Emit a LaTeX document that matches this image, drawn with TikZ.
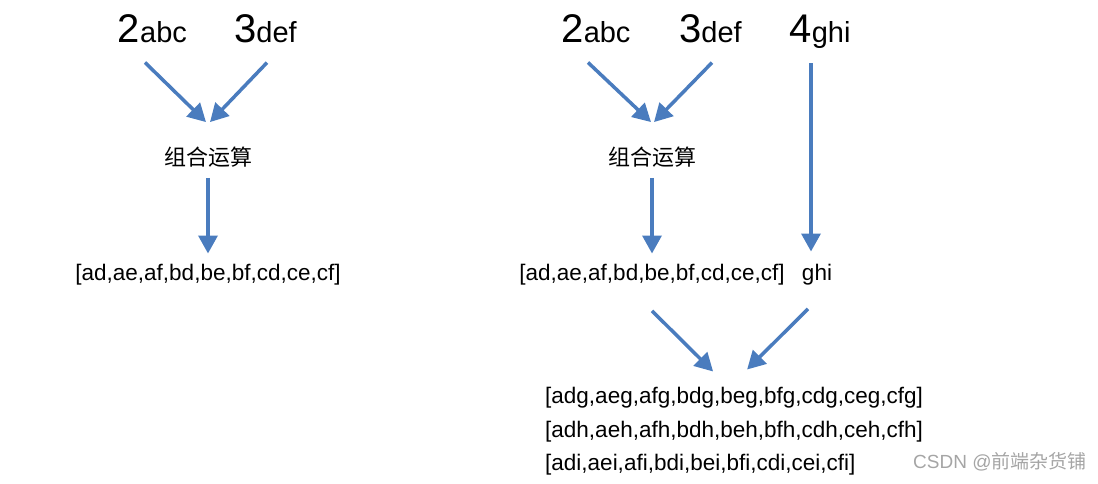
\documentclass[tikz,border=0pt]{standalone}
\usepackage{fontspec}
\setmainfont{Liberation Sans}
\newfontfamily\cjk{Noto Sans CJK SC}
\usepackage{xcolor}
\usepackage{tikz}
\usetikzlibrary{arrows.meta,positioning}
\definecolor{flowblue}{RGB}{74,124,190}
\definecolor{markgray}{RGB}{165,165,165}
\newcommand{\digitset}[2]{#1{\fontsize{29}{32}\selectfont #2}}
\tikzset{
  numlbl/.style={font=\fontsize{40}{44}\selectfont, inner sep=0pt, anchor=base},
  oplbl/.style={font=\cjk\fontsize{22}{26}\selectfont, inner sep=0pt},
  setlbl/.style={font=\fontsize{22.5}{27}\selectfont, inner sep=0pt, anchor=base},
  reslbl/.style={setlbl, anchor=base west},
  flow/.style={-{Triangle[length=18pt,width=19pt]}, flowblue, line width=3.5pt}
}

\begin{document}
\begin{tikzpicture}[x=1pt,y=-1pt]
  \useasboundingbox (0,0) rectangle (1098,483);
  % two digits
  \node[numlbl] (la) at (152.5,42) {\digitset{2}{abc}};
  \node[numlbl] (lb) at (265.5,42) {\digitset{3}{def}};
  \node[oplbl] (lop) at (208,157.5) {组合运算};
  \node[setlbl] (lset) at (208,280) {[ad,ae,af,bd,be,bf,cd,ce,cf]};
  \draw[flow] ([xshift=-7.5pt,yshift=-20pt]la.south) -- ([xshift=-2pt,yshift=25pt]lop.north);
  \draw[flow] ([xshift=1.5pt,yshift=-20pt]lb.south) -- ([xshift=2pt,yshift=25pt]lop.north);
  \draw[flow,shorten <=10pt,shorten >=10pt] (lop.south) -- (lset.north);
  % three digits
  \node[numlbl] (ra) at (596,42) {\digitset{2}{abc}};
  \node[numlbl] (rb) at (710.5,42) {\digitset{3}{def}};
  \node[numlbl] (rc) at (820,42) {\digitset{4}{ghi}};
  \node[oplbl] (rop) at (652,157.5) {组合运算};
  \node[setlbl] (rset) at (652,280) {[ad,ae,af,bd,be,bf,cd,ce,cf]};
  \node[setlbl] (ghi) at (817,280) {ghi};
  \draw[flow] ([xshift=-8pt,yshift=-20pt]ra.south) -- ([xshift=-1pt,yshift=25pt]rop.north);
  \draw[flow] ([xshift=1.5pt,yshift=-20pt]rb.south) -- ([xshift=2pt,yshift=25pt]rop.north);
  \draw[flow,shorten <=10pt,shorten >=10pt] (rop.south) -- (rset.north);
  \draw[flow] ([xshift=-9pt,yshift=-15pt]rc.south) -- ([xshift=-6pt,yshift=12pt]ghi.north);
  \node[reslbl] (r1) at (545,403) {[adg,aeg,afg,bdg,beg,bfg,cdg,ceg,cfg]};
  \node[reslbl] (r2) at (545,437) {[adh,aeh,afh,bdh,beh,bfh,cdh,ceh,cfh]};
  \node[reslbl] (r3) at (545,470) {[adi,aei,afi,bdi,bei,bfi,cdi,cei,cfi]};
  \draw[flow] ([yshift=-26pt]rset.south) -- ([xshift=-21pt,yshift=15pt]r1.north);
  \draw[flow] ([xshift=-9pt,yshift=-24pt]ghi.south) -- ([xshift=13pt,yshift=17pt]r1.north);
  \node[font=\fontsize{19}{22}\selectfont, text=markgray, inner sep=0pt, anchor=base west] (mark) at (913,468) {CSDN @{\cjk 前端杂货铺}};
\end{tikzpicture}
\end{document}
